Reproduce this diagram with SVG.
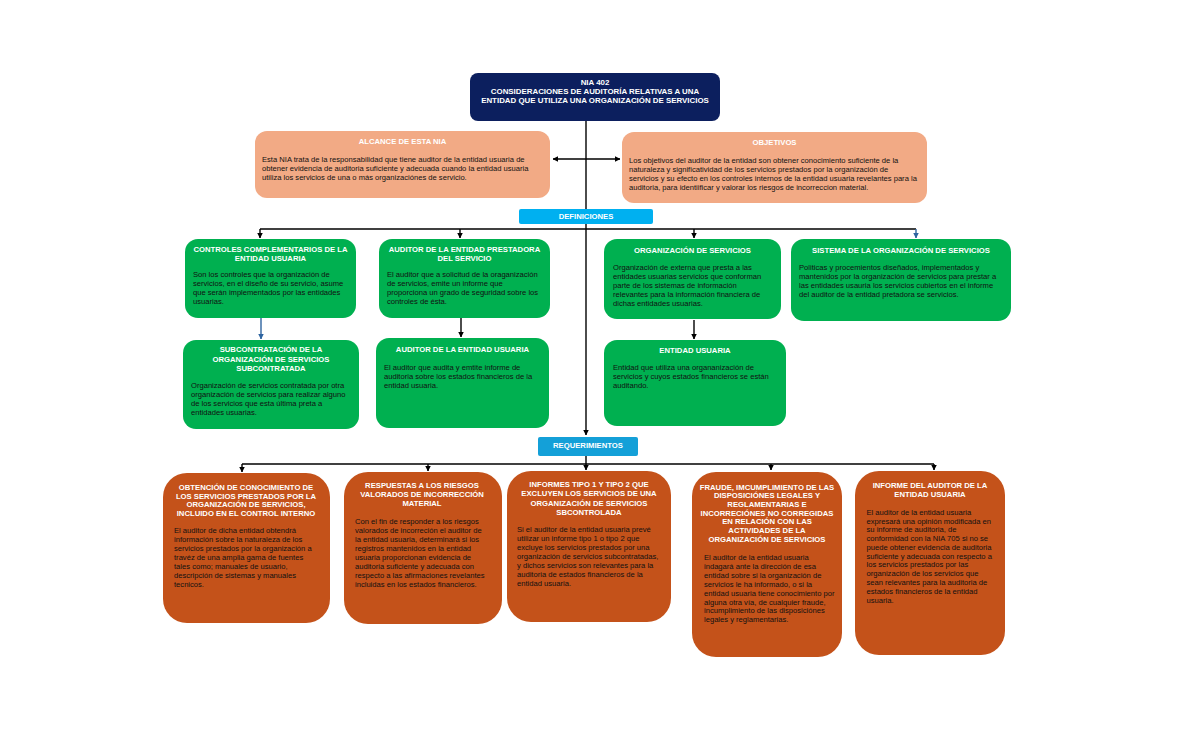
<svg xmlns="http://www.w3.org/2000/svg" width="1200" height="729" viewBox="0 0 1200 729">
<style>
text{font-family:"Liberation Sans",Arial,sans-serif}
.b{font-size:7.6px;fill:#111}
.h{font-size:7.7px;font-weight:bold;fill:#fff;text-anchor:middle}
.hh{font-size:7.9px}
.ln{stroke:#000;stroke-width:1.4;fill:none}
.lb{stroke:#2e64a0;stroke-width:1.4;fill:none}
.navy{fill:#0c1f5e}
.sal{fill:#f2aa85}
.grn{fill:#00b050}
.org{fill:#c4521a}
</style>
<defs>
<marker id="ah" viewBox="0 0 6 6" refX="5.5" refY="3" markerWidth="4" markerHeight="4" orient="auto"><path d="M0,0L6,3L0,6z" fill="#000"/></marker>
<marker id="ahb" viewBox="0 0 6 6" refX="5.5" refY="3" markerWidth="4" markerHeight="4" orient="auto"><path d="M0,0L6,3L0,6z" fill="#2e64a0"/></marker>
<marker id="as" viewBox="0 0 6 6" refX="0.5" refY="3" markerWidth="4" markerHeight="4" orient="auto"><path d="M6,0L0,3L6,6z" fill="#000"/></marker>
</defs>
<rect width="1200" height="729" fill="#fff"/>
<g id="connectors">
<path class="ln" d="M586,121V435" marker-end="url(#ah)"/>
<path class="ln" d="M553,159H620" marker-start="url(#as)" marker-end="url(#ah)"/>
<path class="ln" d="M260,229H916"/>
<path class="ln" d="M260,229V238" marker-end="url(#ah)"/>
<path class="ln" d="M460,229V238" marker-end="url(#ah)"/>
<path class="ln" d="M694,229V238" marker-end="url(#ah)"/>
<path class="lb" d="M916,229V238" marker-end="url(#ahb)"/>
<path class="lb" d="M261,318V339" marker-end="url(#ahb)"/>
<path class="ln" d="M461,318V337" marker-end="url(#ah)"/>
<path class="ln" d="M694,320V339" marker-end="url(#ah)"/>
<path class="ln" d="M586,456V464"/>
<path class="ln" d="M242,464H934"/>
<path class="ln" d="M242,464V472" marker-end="url(#ah)"/>
<path class="ln" d="M428,464V471" marker-end="url(#ah)"/>
<path class="ln" d="M586,464V470" marker-end="url(#ah)"/>
<path class="ln" d="M771,464V470" marker-end="url(#ah)"/>
<path class="ln" d="M934,464V470" marker-end="url(#ah)"/>
</g>
<g id="nia402">
<rect class="navy" x="470" y="73" width="250" height="48" rx="8"/>
<text class="h hh" x="595"><tspan x="595" y="85">NIA 402</tspan><tspan x="595" y="94">CONSIDERACIONES DE AUDITORÍA RELATIVAS A UNA</tspan><tspan x="595" y="103">ENTIDAD QUE UTILIZA UNA ORGANIZACIÓN DE SERVICIOS</tspan></text>
</g>
<g id="alcance">
<rect class="sal" x="255" y="131" width="295" height="67" rx="12"/>
<text class="h" x="402.5" y="144">ALCANCE DE ESTA NIA</text>
<text class="b"><tspan x="262" y="162">Esta NIA trata de la responsabilidad que tiene auditor de la entidad usuaria de</tspan><tspan x="262" y="171">obtener evidencia de auditoria suficiente y adecuada cuando la entidad usuaria</tspan><tspan x="262" y="180">utiliza los servicios de una o más organizaciónes de servicio.</tspan></text>
</g>
<g id="objetivos">
<rect class="sal" x="622" y="132" width="305" height="71" rx="12"/>
<text class="h" x="774.5" y="145">OBJETIVOS</text>
<text class="b"><tspan x="629" y="162.5">Los objetivos del auditor de la entidad son obtener conocimiento suficiente de la</tspan><tspan x="629" y="171.5">naturaleza y significatividad de los servicios prestados por la organización de</tspan><tspan x="629" y="180.5">servicios y su efecto en los controles internos de la entidad usuaria revelantes para la</tspan><tspan x="629" y="189.5">auditoria, para identiificar y valorar los riesgos de incorreccion material.</tspan></text>
</g>
<g id="definiciones">
<rect x="519" y="209" width="134" height="15" rx="2" fill="#00b0f0"/>
<text class="h" x="586" y="219">DEFINICIONES</text>
</g>
<g id="controles">
<rect class="grn" x="185" y="239" width="171" height="79" rx="13"/>
<text class="h"><tspan x="270.5" y="252">CONTROLES COMPLEMENTARIOS DE LA</tspan><tspan x="270.5" y="261">ENTIDAD USUARIA</tspan></text>
<text class="b"><tspan x="193" y="277">Son los controles que la organización de</tspan><tspan x="193" y="286">servicios, en el diseño de su servicio, asume</tspan><tspan x="193" y="295">que serán implementados  por las entidades</tspan><tspan x="193" y="304">usuarias.</tspan></text>
</g>
<g id="auditor-prestadora">
<rect class="grn" x="379" y="239" width="171" height="79" rx="13"/>
<text class="h"><tspan x="464.5" y="252">AUDITOR DE LA ENTIDAD PRESTADORA</tspan><tspan x="464.5" y="261">DEL SERVICIO</tspan></text>
<text class="b"><tspan x="387" y="277">El auditor que a solicitud de la oraganización</tspan><tspan x="387" y="286">de servicios, emite un informe que</tspan><tspan x="387" y="295">proporciona un grado de seguridad sobre los</tspan><tspan x="387" y="304">controles de ésta.</tspan></text>
</g>
<g id="organizacion-servicios">
<rect class="grn" x="604" y="239" width="177" height="80" rx="13"/>
<text class="h" x="692.5" y="252.5">ORGANIZACIÓN DE SERVICIOS</text>
<text class="b"><tspan x="613" y="270">Organización de externa que presta a las</tspan><tspan x="613" y="279">entidades usuarias servicios que conforman</tspan><tspan x="613" y="288">parte de los sistemas de información</tspan><tspan x="613" y="297">relevantes para la información financiera de</tspan><tspan x="613" y="306">dichas entidades usuarias.</tspan></text>
</g>
<g id="sistema">
<rect class="grn" x="791" y="239" width="220" height="82" rx="13"/>
<text class="h" x="901" y="252.5">SISTEMA DE LA ORGANIZACIÓN DE SERVICIOS</text>
<text class="b"><tspan x="799" y="270">Politicas y procemientos diseñados, implementados y</tspan><tspan x="799" y="279">mantenidos por la organización de servicios para prestar a</tspan><tspan x="799" y="288">las entidades usauria los servicios cubiertos en el informe</tspan><tspan x="799" y="297">del auditor de la entidad pretadora se servicios.</tspan></text>
</g>
<g id="subcontratacion">
<rect class="grn" x="183" y="340" width="176" height="89" rx="13"/>
<text class="h"><tspan x="271" y="352">SUBCONTRATACIÓN DE LA</tspan><tspan x="271" y="361.5">ORGANIZACIÓN DE SERVICIOS</tspan><tspan x="271" y="370.5">SUBCONTRATADA</tspan></text>
<text class="b"><tspan x="191" y="388">Organización de servicios  contratada por otra</tspan><tspan x="191" y="397">organización de servicios para realizar alguno</tspan><tspan x="191" y="406">de los servicios que esta última preta a</tspan><tspan x="191" y="415">entidades usuarias.</tspan></text>
</g>
<g id="auditor-usuaria">
<rect class="grn" x="376" y="338" width="173" height="90" rx="13"/>
<text class="h" x="462.5" y="351.5">AUDITOR DE LA ENTIDAD USUARIA</text>
<text class="b"><tspan x="384" y="369.5">El auditor que  audita y emtite informe de</tspan><tspan x="384" y="378.5">auditoria sobre los estados financieros de la</tspan><tspan x="384" y="387.5">entidad usuaria.</tspan></text>
</g>
<g id="entidad-usuaria">
<rect class="grn" x="604" y="340" width="182" height="86" rx="13"/>
<text class="h" x="695" y="353">ENTIDAD USUARIA</text>
<text class="b"><tspan x="613" y="370">Entidad que utiliza una organanización de</tspan><tspan x="613" y="379">servicios y cuyos estados financieros se están</tspan><tspan x="613" y="388">auditando.</tspan></text>
</g>
<g id="requerimientos">
<rect x="538" y="437" width="100" height="19" rx="2" fill="#14a0d8"/>
<text class="h" x="588" y="447.5">REQUERIMIENTOS</text>
</g>
<g id="obtencion">
<rect class="org" x="163" y="473" width="167" height="150" rx="24"/>
<text class="h"><tspan x="246" y="489.5">OBTENCIÓN DE CONOCIMIENTO DE</tspan><tspan x="246" y="498.5">LOS SERVICIOS PRESTADOS POR LA</tspan><tspan x="246" y="507">ORGANIZACIÓN DE SERVICIOS,</tspan><tspan x="246" y="516">INCLUIDO EN EL CONTROL INTERNO</tspan></text>
<text class="b"><tspan x="174" y="532.5">El auditor de dicha entidad obtendrá</tspan><tspan x="174" y="541.5">información sobre la naturaleza de los</tspan><tspan x="174" y="550.5">servicios prestados por la organización a</tspan><tspan x="174" y="559.5">travéz de una amplia gama de fuentes</tspan><tspan x="174" y="568.5">tales como; manuales de usuario,</tspan><tspan x="174" y="577.5">descripción de sistemas y manuales</tspan><tspan x="174" y="586.5">tecnicos.</tspan></text>
</g>
<g id="respuestas">
<rect class="org" x="344" y="472" width="158" height="152" rx="24"/>
<text class="h"><tspan x="422" y="488">RESPUESTAS A LOS RIESGOS</tspan><tspan x="422" y="497">VALORADOS DE INCORRECCIÓN</tspan><tspan x="422" y="506">MATERIAL</tspan></text>
<text class="b"><tspan x="355" y="523.5">Con el fin de responder a los riesgos</tspan><tspan x="355" y="532.5">valorados de incorreción el auditor de</tspan><tspan x="355" y="541.5">la entidad usuaria, determinará si los</tspan><tspan x="355" y="550.5">registros mantenidos en la entidad</tspan><tspan x="355" y="559.5">usuaria proporcionan evidencia de</tspan><tspan x="355" y="568.5">auditoria suficiente y adecuada con</tspan><tspan x="355" y="577.5">respecto a las afirmaciones revelantes</tspan><tspan x="355" y="586.5">incluidas en los estados financieros.</tspan></text>
</g>
<g id="informes">
<rect class="org" x="507" y="471" width="164" height="151" rx="24"/>
<text class="h"><tspan x="589" y="487">INFORMES TIPO 1 Y TIPO 2 QUE</tspan><tspan x="589" y="496">EXCLUYEN LOS SERVICIOS DE UNA</tspan><tspan x="589" y="505.5">ORGANIZACIÓN DE SERVICIOS</tspan><tspan x="589" y="514.5">SBCONTROLADA</tspan></text>
<text class="b"><tspan x="517" y="531.5">Si el auditor de la entidad usuaria prevé</tspan><tspan x="517" y="540.5">utilizar un informe tipo 1 o tipo 2 que</tspan><tspan x="517" y="549.5">excluye los servicios prestados por una</tspan><tspan x="517" y="558.5">organización de servicios subcontratadas,</tspan><tspan x="517" y="567.5">y dichos servicios son relevantes para la</tspan><tspan x="517" y="576.5">auditoria de estados financieros de la</tspan><tspan x="517" y="585.5">entidad usuaria.</tspan></text>
</g>
<g id="fraude">
<rect class="org" x="692" y="472" width="150" height="185" rx="24"/>
<text class="h"><tspan x="767" y="489.5">FRAUDE, IMCUMPLIMIENTO DE LAS</tspan><tspan x="767" y="498">DISPOSICIÓNES LEGALES Y</tspan><tspan x="767" y="507">REGLAMENTARIAS E</tspan><tspan x="767" y="515.5">INCORRECIÓNES NO CORREGIDAS</tspan><tspan x="767" y="524">EN RELACIÓN CON LAS</tspan><tspan x="767" y="532.5">ACTIVIDADES DE LA</tspan><tspan x="767" y="541.5">ORGANIZACIÓN DE SERVICIOS</tspan></text>
<text class="b"><tspan x="704" y="560">El auditor de la entidad usuaria</tspan><tspan x="704" y="569">indagará ante la dirección de esa</tspan><tspan x="704" y="578">entidad sobre si la organización de</tspan><tspan x="704" y="587">servicios le ha informado, o  si la</tspan><tspan x="704" y="596">entidad usuaria tiene conocimiento por</tspan><tspan x="704" y="604.5">alguna otra vía, de cualquier fraude,</tspan><tspan x="704" y="613">incumplimiento de las disposiciónes</tspan><tspan x="704" y="622">legales y reglamentarias.</tspan></text>
</g>
<g id="informe-auditor">
<rect class="org" x="855" y="471" width="150" height="184" rx="24"/>
<text class="h"><tspan x="930" y="488">INFORME DEL AUDITOR DE LA</tspan><tspan x="930" y="497">ENTIDAD USUARIA</tspan></text>
<text class="b"><tspan x="866.5" y="514.5">El auditor de la entidad usuaria</tspan><tspan x="866.5" y="523.5">expresará una opinión modificada en</tspan><tspan x="866.5" y="532">su informe de auditoria, de</tspan><tspan x="866.5" y="541">conformidad con la NIA 705 si no se</tspan><tspan x="866.5" y="549.5">puede obtener evidencia de auditoria</tspan><tspan x="866.5" y="558.5">suficiente y adecuada con respecto a</tspan><tspan x="866.5" y="567">los servicios prestados por las</tspan><tspan x="866.5" y="576">organización de los servicios que</tspan><tspan x="866.5" y="585">sean relevantes para la auditoria de</tspan><tspan x="866.5" y="594">estados financieros de la entidad</tspan><tspan x="866.5" y="603">usuaria.</tspan></text>
</g>
</svg>
